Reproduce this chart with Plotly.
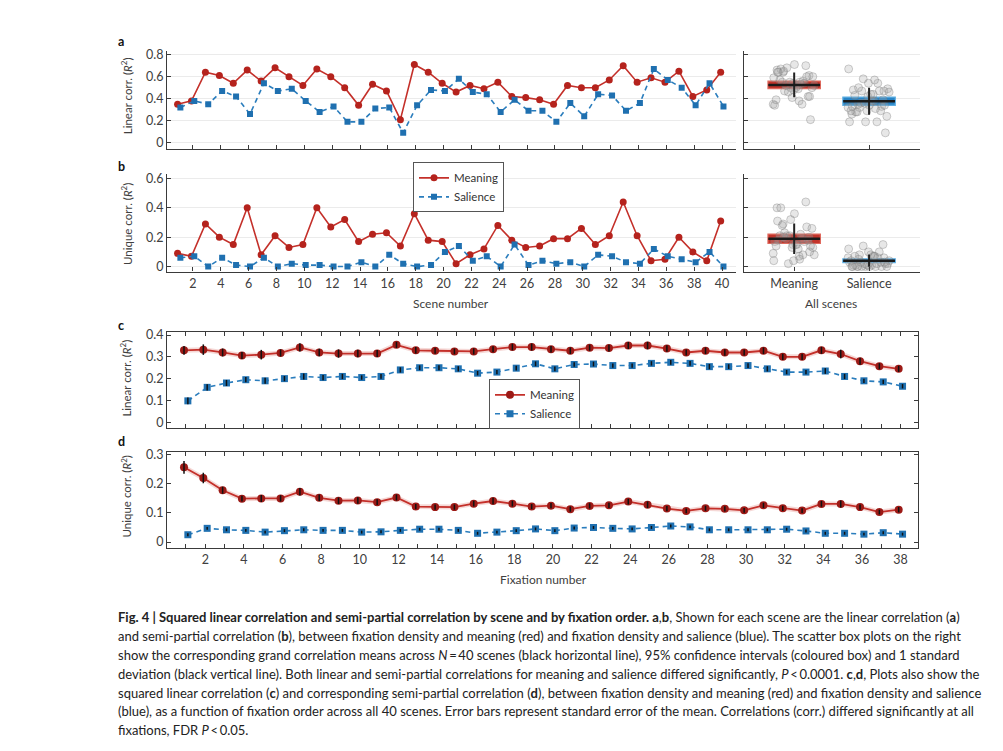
import numpy as np
import plotly.graph_objects as go

W, H = 1003, 751

# ---------------- data ----------------
scenes = list(range(1, 41))
lin_meaning = [0.35, 0.38, 0.64, 0.61, 0.54, 0.66, 0.56, 0.68, 0.60, 0.52,
               0.67, 0.60, 0.50, 0.34, 0.53, 0.47, 0.21, 0.71, 0.64, 0.54,
               0.46, 0.52, 0.49, 0.55, 0.42, 0.41, 0.39, 0.35, 0.52, 0.50,
               0.50, 0.57, 0.70, 0.55, 0.59, 0.55, 0.65, 0.42, 0.48, 0.64]
lin_salience = [0.32, 0.38, 0.35, 0.47, 0.42, 0.26, 0.54, 0.47, 0.49, 0.38,
                0.28, 0.33, 0.19, 0.19, 0.31, 0.32, 0.09, 0.34, 0.48, 0.47,
                0.58, 0.46, 0.44, 0.28, 0.39, 0.29, 0.29, 0.19, 0.36, 0.24,
                0.44, 0.43, 0.29, 0.36, 0.67, 0.57, 0.50, 0.34, 0.54, 0.33]
uni_meaning = [0.09, 0.07, 0.29, 0.20, 0.15, 0.40, 0.08, 0.21, 0.13, 0.15,
               0.40, 0.27, 0.32, 0.17, 0.22, 0.23, 0.14, 0.36, 0.18, 0.17,
               0.02, 0.08, 0.12, 0.28, 0.18, 0.13, 0.14, 0.19, 0.19, 0.26,
               0.15, 0.21, 0.44, 0.21, 0.04, 0.05, 0.20, 0.10, 0.04, 0.31]
uni_salience = [0.06, 0.07, 0.00, 0.06, 0.01, 0.00, 0.06, 0.00, 0.02, 0.01,
                0.01, 0.00, 0.00, 0.03, 0.00, 0.08, 0.02, 0.00, 0.01, 0.10,
                0.14, 0.04, 0.07, 0.00, 0.15, 0.01, 0.04, 0.02, 0.03, 0.00,
                0.08, 0.07, 0.03, 0.02, 0.12, 0.07, 0.05, 0.03, 0.10, 0.00]

fixations = list(range(1, 39))
fix_lin_meaning = [0.330, 0.333, 0.320, 0.306, 0.310, 0.318, 0.343, 0.320, 0.315, 0.315,
                   0.315, 0.355, 0.330, 0.328, 0.325, 0.325, 0.335, 0.345, 0.345, 0.335,
                   0.328, 0.342, 0.340, 0.352, 0.352, 0.338, 0.320, 0.328, 0.320, 0.320,
                   0.328, 0.300, 0.300, 0.330, 0.313, 0.280, 0.257, 0.245]
fix_lin_meaning_sem = [0.020, 0.024, 0.018, 0.016, 0.022, 0.016, 0.019, 0.017, 0.019, 0.017,
                       0.016, 0.014, 0.015, 0.014, 0.013, 0.014, 0.014, 0.015, 0.016, 0.015,
                       0.015, 0.014, 0.015, 0.016, 0.017, 0.015, 0.014, 0.015, 0.015, 0.014,
                       0.015, 0.014, 0.014, 0.016, 0.020, 0.016, 0.014, 0.014]
fix_lin_salience = [0.098, 0.160, 0.180, 0.195, 0.190, 0.200, 0.210, 0.205, 0.210, 0.205,
                    0.210, 0.240, 0.250, 0.250, 0.245, 0.225, 0.230, 0.248, 0.268, 0.245,
                    0.265, 0.267, 0.260, 0.260, 0.270, 0.275, 0.270, 0.255, 0.255, 0.260,
                    0.245, 0.230, 0.230, 0.235, 0.210, 0.190, 0.185, 0.165]
fix_lin_salience_sem = [0.015, 0.014, 0.014, 0.012, 0.014, 0.012, 0.014, 0.012, 0.012, 0.010,
                        0.011, 0.012, 0.011, 0.011, 0.012, 0.010, 0.010, 0.011, 0.011, 0.011,
                        0.010, 0.011, 0.010, 0.010, 0.010, 0.011, 0.011, 0.012, 0.011, 0.011,
                        0.012, 0.010, 0.010, 0.013, 0.012, 0.010, 0.010, 0.010]
fix_uni_meaning = [0.257, 0.220, 0.178, 0.149, 0.150, 0.150, 0.173, 0.152, 0.142, 0.143,
                   0.137, 0.153, 0.122, 0.120, 0.120, 0.132, 0.141, 0.132, 0.122, 0.125,
                   0.113, 0.124, 0.126, 0.139, 0.128, 0.115, 0.107, 0.116, 0.114, 0.109,
                   0.126, 0.116, 0.108, 0.131, 0.131, 0.120, 0.103, 0.111]
fix_uni_meaning_sem = [0.022, 0.018, 0.012, 0.010, 0.012, 0.011, 0.013, 0.011, 0.011, 0.011,
                       0.010, 0.010, 0.009, 0.009, 0.009, 0.010, 0.011, 0.010, 0.009, 0.009,
                       0.009, 0.009, 0.009, 0.010, 0.011, 0.009, 0.008, 0.009, 0.009, 0.008,
                       0.009, 0.009, 0.008, 0.010, 0.012, 0.009, 0.008, 0.009]
fix_uni_salience = [0.025, 0.047, 0.042, 0.040, 0.034, 0.039, 0.042, 0.040, 0.040, 0.034,
                    0.035, 0.040, 0.044, 0.044, 0.040, 0.030, 0.034, 0.039, 0.045, 0.039,
                    0.048, 0.050, 0.047, 0.045, 0.050, 0.055, 0.052, 0.042, 0.042, 0.042,
                    0.042, 0.044, 0.038, 0.030, 0.030, 0.027, 0.032, 0.027]
fix_uni_salience_sem = [0.005] * 38

group_labels = ["Meaning", "Salience"]
y_ticks_lin_scene = [0, 0.2, 0.4, 0.6, 0.8]
y_ticks_uni_scene = [0, 0.2, 0.4, 0.6]
y_ticks_lin_fix = [0, 0.1, 0.2, 0.3, 0.4]
y_ticks_uni_fix = [0, 0.1, 0.2, 0.3]

# ---------------- styles ----------------
RED = "#c4302a"
RED_M = "#b5231d"
RED_DARK = "#9c1a16"
RED_HALO = "rgba(205,60,50,0.2)"
BLUE = "#2a7dbd"
BLUE_M = "#1f70b0"
BOX_RED = "#c3342b"
BOX_BLUE = "#2884c6"
FONT = "Lato"
AX = "#3a3a3a"
TXT = "#404040"


def px_x(p):
    return p / W


def px_y(p):
    return 1 - p / H


fig = go.Figure()

# small dodge offsets (positional only)
DR, DB = -0.1, 0.1


def scene_traces(xa, ya, ym, ys, legend_name=None):
    show = legend_name is not None
    fig.add_trace(go.Scatter(
        x=[s + DR for s in scenes], y=ym, mode="lines+markers", name="Meaning",
        line=dict(color=RED, width=1.6), marker=dict(symbol="circle", size=7, color=RED_M),
        xaxis=xa, yaxis=ya, showlegend=show, legend=legend_name or "legend"))
    fig.add_trace(go.Scatter(
        x=[s + DB for s in scenes], y=ys, mode="lines+markers", name="Salience",
        line=dict(color=BLUE, width=1.6, dash="5px,4px"),
        marker=dict(symbol="square", size=6, color=BLUE_M),
        xaxis=xa, yaxis=ya, showlegend=show, legend=legend_name or "legend"))


scene_traces("x", "y", lin_meaning, lin_salience)
scene_traces("x3", "y3", uni_meaning, uni_salience, legend_name="legend")


def jitter(n):
    return [(((i * 0.6180339887) % 1.0) - 0.5) * 0.56 for i in range(n)]


def scatter_box(xa, ya, vm, vs):
    vals = [np.array(vm), np.array(vs)]
    means = [v.mean() for v in vals]
    sds = [v.std(ddof=1) for v in vals]
    ci = [1.96 * sd / np.sqrt(len(v)) for sd, v in zip(sds, vals)]
    fig.add_trace(go.Bar(
        x=[1, 2], y=[2 * c for c in ci], base=[m - c for m, c in zip(means, ci)],
        width=0.7, marker=dict(color=[BOX_RED, BOX_BLUE],
                               line=dict(color=["#e0695d", "#5eaee2"], width=1.2)),
        xaxis=xa, yaxis=ya, showlegend=False))
    for k, v in enumerate(vals):
        j = jitter(len(v))
        fig.add_trace(go.Scatter(
            x=[k + 1 + jj for jj in j], y=v, mode="markers",
            marker=dict(size=8, color="rgba(170,170,170,0.28)",
                        line=dict(color="rgba(120,120,120,0.35)", width=1)),
            xaxis=xa, yaxis=ya, showlegend=False))
    fig.add_trace(go.Scatter(
        x=[1, 2], y=means, mode="markers",
        marker=dict(size=1, color="rgba(0,0,0,0)"),
        error_y=dict(type="data", array=sds, color="#222222", thickness=2, width=0),
        xaxis=xa, yaxis=ya, showlegend=False))
    fig.add_trace(go.Scatter(
        x=[1, 2], y=means, mode="markers",
        marker=dict(symbol="line-ew", size=37, line=dict(color="#1a1a1a", width=2.5)),
        xaxis=xa, yaxis=ya, showlegend=False))


scatter_box("x2", "y2", lin_meaning, lin_salience)
scatter_box("x4", "y4", uni_meaning, uni_salience)


def fix_traces(xa, ya, ym, em, ys, es, legend_name=None):
    show = legend_name is not None
    fig.add_trace(go.Scatter(
        x=[f + DR for f in fixations], y=ym, mode="lines",
        line=dict(color=RED_HALO, width=5), hoverinfo="skip",
        xaxis=xa, yaxis=ya, showlegend=False))
    fig.add_trace(go.Scatter(
        x=[f + DR for f in fixations], y=ym, mode="lines+markers", name="Meaning",
        line=dict(color=RED, width=1.8), marker=dict(symbol="circle", size=8, color=RED_DARK),
        xaxis=xa, yaxis=ya, showlegend=show, legend=legend_name or "legend"))
    fig.add_trace(go.Scatter(
        x=[f + DB for f in fixations], y=ys, mode="lines+markers", name="Salience",
        line=dict(color=BLUE, width=1.6, dash="5px,4px"),
        marker=dict(symbol="square", size=7, color=BLUE_M),
        xaxis=xa, yaxis=ya, showlegend=show, legend=legend_name or "legend"))
    for dx, yy, ee in [(DR, ym, em), (DB, ys, es)]:
        fig.add_trace(go.Scatter(
            x=[f + dx for f in fixations], y=yy, mode="markers",
            marker=dict(size=1, color="rgba(0,0,0,0)"),
            error_y=dict(type="data", array=ee, color="#111111", thickness=1.5, width=0),
            xaxis=xa, yaxis=ya, showlegend=False))


fix_traces("x5", "y5", fix_lin_meaning, fix_lin_meaning_sem,
           fix_lin_salience, fix_lin_salience_sem, legend_name="legend2")
fix_traces("x6", "y6", fix_uni_meaning, fix_uni_meaning_sem,
           fix_uni_salience, fix_uni_salience_sem)

# ---------------- axes ----------------
tickfont = dict(family=FONT, size=12.5, color=TXT)
common = dict(showline=True, linecolor=AX, linewidth=1.2, ticks="inside", ticklen=4,
              tickcolor=AX, tickfont=tickfont, zeroline=False)
minor_fix = dict(ticks="inside", ticklen=4, tickcolor=AX, tick0=1, dtick=1, showgrid=False)

left_dom = [px_x(159), px_x(728)]
right_dom = [px_x(736), px_x(912)]
full_dom = [px_x(159), px_x(910)]

scene_even = list(range(2, 41, 2))
fix_even = list(range(2, 39, 2))

fig.update_layout(
    xaxis=dict(domain=left_dom, range=[0.14, 41.0], tickvals=scene_even,
               showticklabels=False, anchor="y", showgrid=False, **common),
    yaxis=dict(domain=[px_y(137), px_y(38)], range=[-0.054, 0.836],
               tickvals=y_ticks_lin_scene, ticktext=["0", "0.2", "0.4", "0.6", "0.8"],
               anchor="x", showgrid=True, gridcolor="#ebebeb", gridwidth=1, **common),
    xaxis2=dict(domain=right_dom, range=[0.33, 2.68], tickvals=[1, 2],
                showticklabels=False, anchor="y2", showgrid=False, **common),
    yaxis2=dict(domain=[px_y(137), px_y(38)], range=[-0.054, 0.836],
                tickvals=y_ticks_lin_scene, showticklabels=False, anchor="x2",
                showgrid=True, gridcolor="#ebebeb", **common),
    xaxis3=dict(domain=left_dom, range=[0.14, 41.0], tickvals=scene_even,
                anchor="y3", showgrid=False, **common),
    yaxis3=dict(domain=[px_y(261), px_y(163)], range=[-0.034, 0.627],
                tickvals=y_ticks_uni_scene, ticktext=["0", "0.2", "0.4", "0.6"],
                anchor="x3", showgrid=True, gridcolor="#ebebeb", **common),
    xaxis4=dict(domain=right_dom, range=[0.33, 2.68], tickvals=[1, 2],
                ticktext=group_labels, anchor="y4", showgrid=False, **common),
    yaxis4=dict(domain=[px_y(261), px_y(163)], range=[-0.034, 0.627],
                tickvals=y_ticks_uni_scene, showticklabels=False, anchor="x4",
                showgrid=True, gridcolor="#ebebeb", **common),
    xaxis5=dict(domain=full_dom, range=[0.02, 38.9], tickvals=fix_even,
                showticklabels=False, anchor="y5", mirror="ticks", showgrid=False,
                minor=minor_fix, **common),
    yaxis5=dict(domain=[px_y(419), px_y(322)], range=[-0.027, 0.414],
                tickvals=y_ticks_lin_fix, ticktext=["0", "0.1", "0.2", "0.3", "0.4"],
                anchor="x5", mirror="ticks", showgrid=False, **common),
    xaxis6=dict(domain=full_dom, range=[0.02, 38.9], tickvals=fix_even,
                anchor="y6", mirror="ticks", showgrid=False, minor=minor_fix, **common),
    yaxis6=dict(domain=[px_y(540), px_y(443)], range=[-0.0205, 0.31],
                tickvals=y_ticks_uni_fix, ticktext=["0", "0.1", "0.2", "0.3"],
                anchor="x6", mirror="ticks", showgrid=False, **common),
)

legend_common = dict(bgcolor="white", bordercolor="#555555", borderwidth=1,
                     font=dict(family=FONT, size=11.5, color="#333333"),
                     xanchor="left", yanchor="middle", tracegroupgap=0, itemwidth=30)
fig.update_layout(
    legend=dict(x=px_x(405), y=px_y(176), **legend_common),
    legend2=dict(x=px_x(481), y=px_y(395), **legend_common),
)

# ---------------- text annotations ----------------
ann = []


def text(x, y, s, size=12, angle=0, xanchor="center", color=TXT):
    ann.append(dict(xref="paper", yref="paper", x=px_x(x), y=px_y(y), text=s,
                    showarrow=False, textangle=angle, xanchor=xanchor, yanchor="middle",
                    font=dict(family=FONT, size=size, color=color)))


R2 = "(<i>R</i><sup>2</sup>)"
text(118, 84, "Linear corr. " + R2, size=11.5, angle=-90)
text(118, 213, "Unique corr. " + R2, size=11.5, angle=-90)
text(118, 369, "Linear corr. " + R2, size=11.5, angle=-90)
text(118, 488, "Unique corr. " + R2, size=11.5, angle=-90)
text(443, 293, "Scene number", size=12)
text(823, 293, "All scenes", size=12)
text(535, 572, "Fixation number", size=12)
for lab, yy in [("a", 29), ("b", 155), ("c", 315), ("d", 433)]:
    text(113, yy, "<b>" + lab + "</b>", size=12.5, color="#111111")

caption = [
    "<b>Fig. 4 | Squared linear correlation and semi-partial correlation by scene and by fixation order. a</b>,<b>b</b>, Shown for each scene are the linear correlation (<b>a</b>)",
    "and semi-partial correlation (<b>b</b>), between fixation density and meaning (red) and fixation density and salience (blue). The scatter box plots on the right",
    "show the corresponding grand correlation means across <i>N</i>\u2009=\u200940 scenes (black horizontal line), 95% confidence intervals (coloured box) and 1 standard",
    "deviation (black vertical line). Both linear and semi-partial correlations for meaning and salience differed significantly, <i>P</i>\u2009&lt;\u20090.0001. <b>c</b>,<b>d</b>, Plots also show the",
    "squared linear correlation (<b>c</b>) and corresponding semi-partial correlation (<b>d</b>), between fixation density and meaning (red) and fixation density and salience",
    "(blue), as a function of fixation order across all 40 scenes. Error bars represent standard error of the mean. Correlations (corr.) differed significantly at all",
    "fixations, FDR <i>P</i>\u2009&lt;\u20090.05.",
]
for i, line in enumerate(caption):
    text(108, 610 + 19 * i, line, size=13, xanchor="left", color="#222222")

fig.update_layout(
    annotations=ann,
    width=W, height=H,
    margin=dict(l=0, r=0, t=0, b=0),
    paper_bgcolor="white", plot_bgcolor="white",
    font=dict(family=FONT, color=TXT),
    barmode="overlay",
)

fig.write_html("out.html")
